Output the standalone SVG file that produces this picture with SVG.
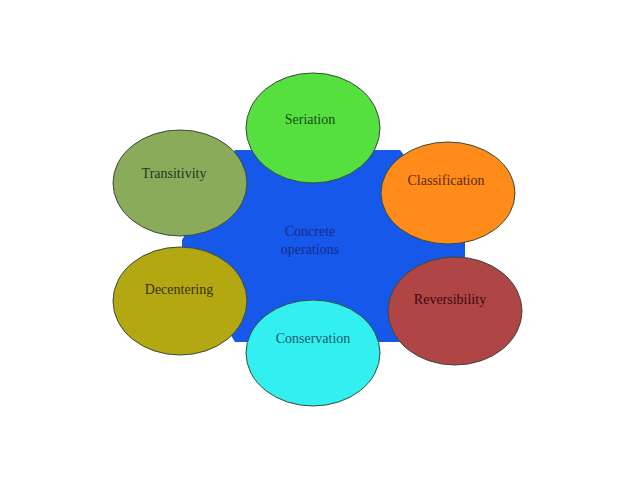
<svg xmlns="http://www.w3.org/2000/svg" width="638" height="478" viewBox="0 0 638 478">
<style>
ellipse{stroke:#3a4a3a;stroke-width:1}
text{font-family:"Liberation Serif",serif;font-size:14px;text-anchor:middle}
</style>
<rect width="638" height="478" fill="#fff"/>
<g id="center">
<polygon points="182,240 182,256 235,342 400,342 465,257 465,233 400,150 235,150" fill="#1558ea"/>
<text x="310" y="236" fill="#1a2a8a">Concrete</text>
<text x="310" y="254" fill="#1a2a8a">operations</text>
</g>
<g id="seriation"><ellipse cx="313" cy="128" rx="67" ry="55" fill="#55e040"/><text x="310" y="124" fill="#1a4a1a">Seriation</text></g>
<g id="transitivity"><ellipse cx="180" cy="183" rx="67" ry="53" fill="#8aab5a"/><text x="174" y="178" fill="#1f3a1f">Transitivity</text></g>
<g id="classification"><ellipse cx="448" cy="193" rx="67" ry="51" fill="#ff8c1a"/><text x="446" y="185" fill="#5a2a10">Classification</text></g>
<g id="decentering"><ellipse cx="180" cy="301" rx="67" ry="54" fill="#b3a812"/><text x="179" y="294" fill="#3a3010">Decentering</text></g>
<g id="reversibility"><ellipse cx="455" cy="311" rx="67" ry="54" fill="#b04545"/><text x="450" y="304" fill="#3a0a0a">Reversibility</text></g>
<g id="conservation"><ellipse cx="313" cy="353" rx="67" ry="53" fill="#33f0f0"/><text x="313" y="343" fill="#1a5a6a">Conservation</text></g>
<g id="connectors"/>
</svg>
